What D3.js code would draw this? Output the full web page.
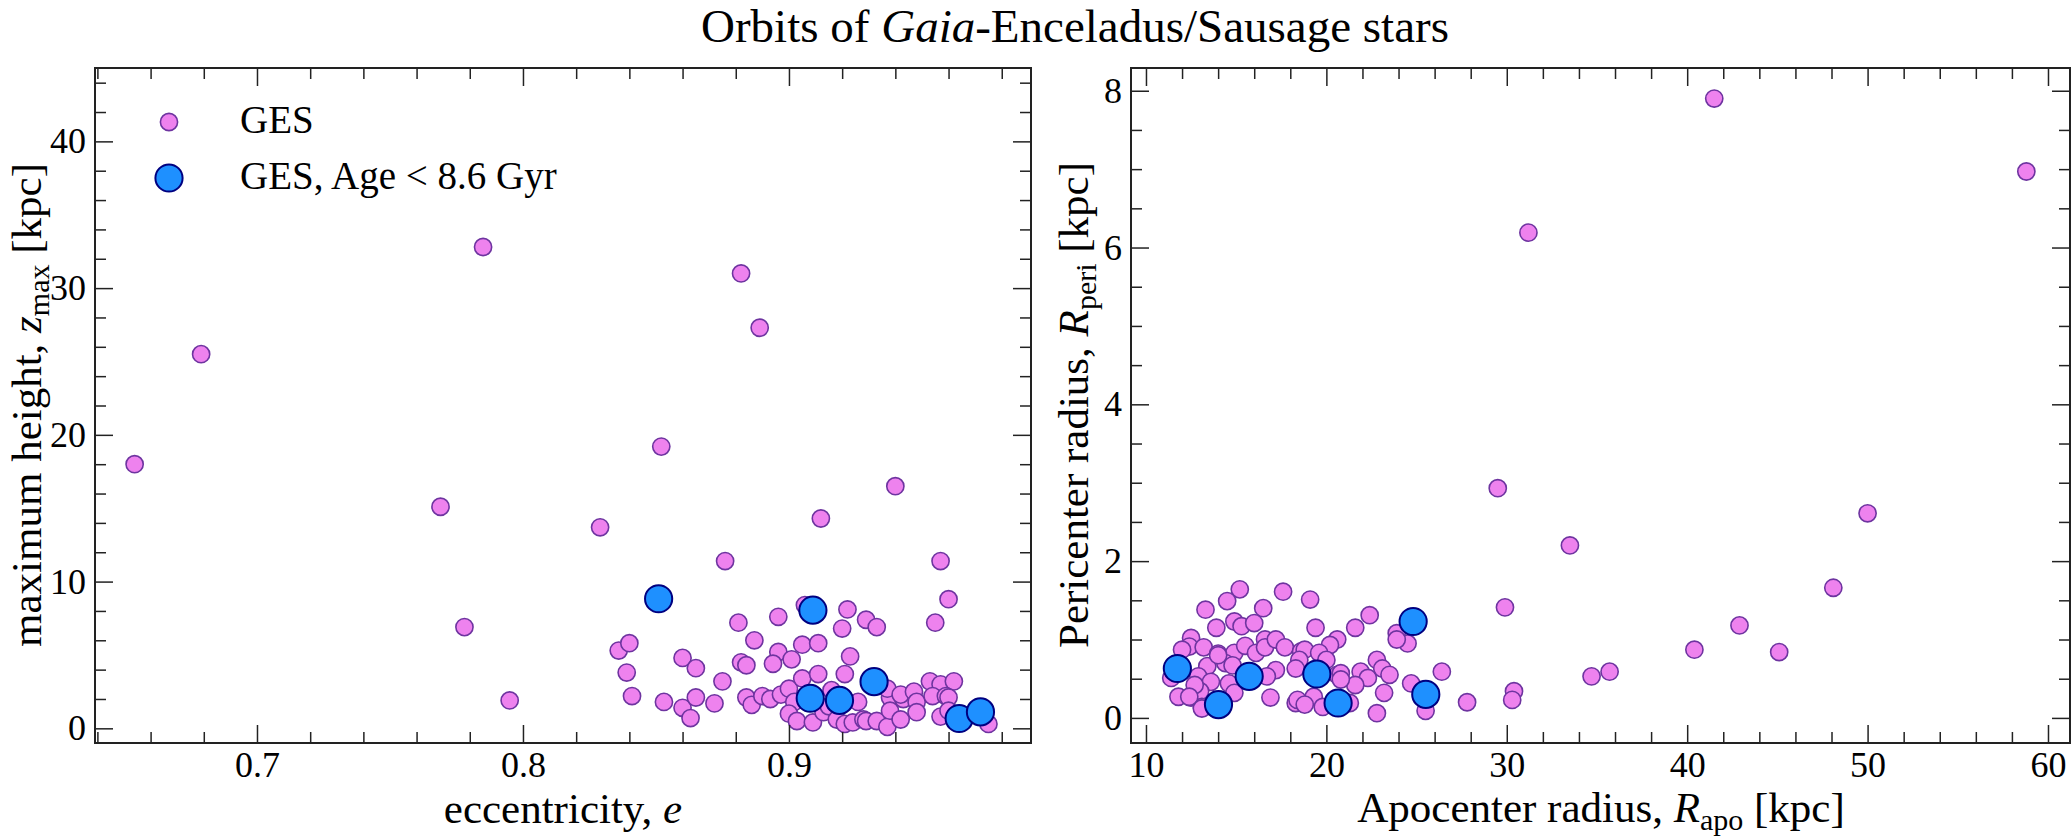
<!DOCTYPE html>
<html>
<head>
<meta charset="utf-8">
<script src="https://cdn.jsdelivr.net/npm/d3@7"></script>
<style>
  body { margin: 0; background: #fff; }
  svg { display: block; }
  svg text { font-family: "Liberation Serif", "Times New Roman", serif; }
</style>
</head>
<body>
<script>

// GES stars: eccentricity vs maximum height z_max [kpc]
const gesEccZ = [
  [0.654, 18.0], [0.679, 25.5], [0.785, 32.8], [0.882, 31.0], [0.889, 27.3],
  [0.769, 15.1], [0.778, 6.9], [0.795, 1.9], [0.852, 19.2], [0.829, 13.7],
  [0.876, 11.4], [0.912, 14.3], [0.940, 16.5], [0.957, 11.4], [0.960, 8.8], [0.955, 7.2],
  [0.836, 5.3], [0.840, 5.8], [0.839, 3.8], [0.841, 2.2],
  [0.860, 4.8], [0.865, 4.1], [0.853, 1.8], [0.860, 1.4], [0.863, 0.7], [0.865, 2.1],
  [0.872, 1.7], [0.875, 3.2],
  [0.881, 7.2], [0.887, 6.0], [0.882, 4.5], [0.884, 4.3], [0.884, 2.1], [0.886, 1.6],
  [0.896, 7.6], [0.896, 5.2], [0.894, 4.4], [0.901, 4.7], [0.905, 5.7], [0.906, 8.4], [0.911, 5.8],
  [0.890, 2.2], [0.893, 2.0], [0.897, 2.3], [0.900, 2.7], [0.905, 3.4], [0.911, 3.7], [0.921, 3.7],
  [0.902, 1.8], [0.900, 1.0], [0.903, 0.5], [0.909, 0.4], [0.913, 1.1], [0.915, 1.5],
  [0.918, 0.6], [0.921, 0.3], [0.924, 0.4], [0.926, 1.8], [0.928, 0.6],
  [0.916, 2.6], [0.922, 8.1], [0.920, 6.8], [0.923, 4.9],
  [0.929, 7.4], [0.933, 6.9], [0.929, 0.5], [0.933, 0.5], [0.937, 0.1], [0.938, 2.1],
  [0.937, 2.7], [0.938, 1.2], [0.942, 0.6], [0.943, 2.0], [0.942, 2.3], [0.947, 2.5],
  [0.948, 1.8], [0.948, 1.1],
  [0.953, 3.2], [0.957, 3.0], [0.962, 3.2], [0.954, 2.2], [0.959, 2.2], [0.960, 2.1],
  [0.957, 0.8], [0.960, 1.2], [0.975, 0.3]
];

// GES stars younger than 8.6 Gyr
const youngEccZ = [
  [0.851, 8.83], [0.909, 8.05], [0.908, 2.05], [0.919, 1.90], [0.932, 3.18], [0.964, 0.67], [0.972, 1.12]
];

// GES stars: apocenter vs pericenter radius [kpc]
const gesApoPeri = [
  [41.5, 7.90], [58.8, 6.97], [31.2, 6.19], [29.5, 2.93], [50.0, 2.61], [33.5, 2.20],
  [48.1, 1.66], [29.9, 1.41], [42.9, 1.18], [40.4, 0.87], [45.1, 0.84], [35.7, 0.59],
  [34.7, 0.53], [30.4, 0.34], [30.3, 0.23], [27.8, 0.20], [26.4, 0.59], [22.8, 0.06], [25.5, 0.09],
  [15.2, 1.64], [14.5, 1.49], [13.3, 1.38], [17.6, 1.61], [16.5, 1.40], [19.1, 1.51],
  [13.9, 1.15], [14.9, 1.23], [15.3, 1.17], [16.0, 1.21], [19.4, 1.15], [22.4, 1.31], [21.6, 1.15],
  [12.5, 1.02], [12.4, 0.91], [12.0, 0.87], [13.2, 0.90], [14.0, 0.82], [14.9, 0.83],
  [15.5, 0.92], [16.1, 0.83], [16.6, 1.00], [16.6, 0.90], [17.2, 1.00], [17.7, 0.90], [18.6, 0.85],
  [23.9, 1.08], [24.5, 0.95], [23.9, 1.00], [20.6, 1.00], [20.2, 0.93], [18.8, 0.87],
  [19.6, 0.83], [20.0, 0.74], [18.5, 0.74],
  [13.4, 0.66], [14.4, 0.70], [14.8, 0.67], [12.9, 0.53], [13.6, 0.46], [14.6, 0.44],
  [17.2, 0.61], [16.7, 0.53], [18.3, 0.63], [14.0, 0.80],
  [11.8, 0.27], [12.5, 0.26], [13.0, 0.34], [13.1, 0.14], [14.9, 0.32], [16.9, 0.26],
  [18.3, 0.19], [11.4, 0.51], [12.7, 0.42], [12.4, 0.27], [13.1, 0.12], [18.4, 0.23],
  [20.6, 0.55], [21.9, 0.59], [22.3, 0.51], [22.8, 0.74], [23.1, 0.63], [23.5, 0.55],
  [21.6, 0.42], [23.2, 0.32], [24.7, 0.44], [20.8, 0.57], [20.8, 0.49],
  [19.3, 0.27], [18.8, 0.17], [19.8, 0.14], [21.3, 0.19]
];

const youngApoPeri = [
  [11.74, 0.63], [14.02, 0.17], [15.72, 0.53], [19.47, 0.56], [20.65, 0.19], [24.81, 1.23], [25.51, 0.30]
];

// tick labels
const eccTicks = [0.7, 0.8, 0.9];
const zTicks = [0, 10, 20, 30, 40];
const apoTicks = [10, 20, 30, 40, 50, 60];
const periTicks = [0, 2, 4, 6, 8];
const legendLabels = ["GES", "GES, Age < 8.6 Gyr"];

const w = 2071;
const h = 838;
const serif = "Liberation Serif, Times New Roman, serif";

const pinkFill = "#ee82ee", pinkEdge = "#6e34a0";
const blueFill = "#1e90ff", blueEdge = "#000080";

// panel boxes
const left = { x0: 95, x1: 1031, y0: 68, y1: 743 };
const right = { x0: 1131, x1: 2070, y0: 68, y1: 743 };

const xL = d3.scaleLinear().domain([0.6391, 0.9910]).range([left.x0, left.x1]);
const yL = d3.scaleLinear().domain([-1, 45]).range([left.y1, left.y0]);
const xR = d3.scaleLinear().domain([9.17, 61.22]).range([right.x0, right.x1]);
const yR = d3.scaleLinear().domain([-0.32, 8.29]).range([right.y1, right.y0]);

const svg = d3.select("body")
              .append("svg")
              .attr("width", w)
              .attr("height", h)
              .attr("font-family", serif);

function styleAxis(g, size) {
  g.select(".domain").remove();
  g.attr("font-family", serif).attr("font-size", size);
  g.selectAll(".tick line").attr("stroke", "#222").attr("stroke-width", 1.5);
  g.selectAll(".tick text").attr("fill", "#000").attr("font-family", serif);
}

function drawAxes(p, x, y, xMajor, xMinor, yMajor, yMinor, xFmt) {
  const maj = 18, mnr = 11;
  // bottom + left with labels
  svg.append("g").attr("transform", "translate(0," + p.y1 + ")")
     .call(d3.axisBottom(x).tickValues(xMajor).tickSize(-maj).tickPadding(8).tickFormat(xFmt))
     .call(g => styleAxis(g, 36));
  svg.append("g").attr("transform", "translate(" + p.x0 + ",0)")
     .call(d3.axisLeft(y).tickValues(yMajor).tickSize(-maj).tickPadding(9).tickFormat(d3.format("d")))
     .call(g => styleAxis(g, 36));
  // mirrored ticks on top and right
  svg.append("g").attr("transform", "translate(0," + p.y0 + ")")
     .call(d3.axisTop(x).tickValues(xMajor).tickSize(-maj).tickFormat(""))
     .call(g => styleAxis(g, 36));
  svg.append("g").attr("transform", "translate(" + p.x1 + ",0)")
     .call(d3.axisRight(y).tickValues(yMajor).tickSize(-maj).tickFormat(""))
     .call(g => styleAxis(g, 36));
  // minor ticks
  [[d3.axisBottom(x).tickValues(xMinor), "translate(0," + p.y1 + ")"],
   [d3.axisTop(x).tickValues(xMinor), "translate(0," + p.y0 + ")"],
   [d3.axisLeft(y).tickValues(yMinor), "translate(" + p.x0 + ",0)"],
   [d3.axisRight(y).tickValues(yMinor), "translate(" + p.x1 + ",0)"]].forEach(([ax, tr]) => {
     svg.append("g").attr("transform", tr)
        .call(ax.tickSize(-mnr).tickFormat(""))
        .call(g => styleAxis(g, 36));
  });
  // frame
  svg.append("rect")
     .attr("x", p.x0).attr("y", p.y0)
     .attr("width", p.x1 - p.x0).attr("height", p.y1 - p.y0)
     .attr("fill", "none").attr("stroke", "#222").attr("stroke-width", 2);
}

function drawPoints(data, x, y, r, fill, edge, sw) {
  svg.append("g")
     .selectAll("circle")
     .data(data)
     .enter()
     .append("circle")
     .attr("cx", d => x(d[0]))
     .attr("cy", d => y(d[1]))
     .attr("r", r)
     .attr("fill", fill)
     .attr("stroke", edge)
     .attr("stroke-width", sw);
}

// left panel
drawPoints(gesEccZ, xL, yL, 8.6, pinkFill, pinkEdge, 1.6);
drawPoints(youngEccZ, xL, yL, 13.6, blueFill, blueEdge, 2);
drawAxes(left, xL, yL, eccTicks,
         d3.range(0.64, 0.99, 0.02).filter(v => eccTicks.every(t => Math.abs(t - v) > 1e-6)),
         zTicks, d3.range(0, 45, 2).filter(v => v % 10 !== 0), d3.format(".1f"));

// right panel
drawPoints(gesApoPeri, xR, yR, 8.6, pinkFill, pinkEdge, 1.6);
drawPoints(youngApoPeri, xR, yR, 13.6, blueFill, blueEdge, 2);
drawAxes(right, xR, yR, apoTicks,
         d3.range(10, 61, 2).filter(v => v % 10 !== 0),
         periTicks, d3.range(0, 8.1, 0.5).filter(v => v % 2 !== 0), d3.format("d"));

// legend
const legend = svg.append("g").attr("font-size", 39);
legend.append("circle").attr("cx", 169).attr("cy", 122).attr("r", 8.6)
      .attr("fill", pinkFill).attr("stroke", pinkEdge).attr("stroke-width", 1.6);
legend.append("circle").attr("cx", 169).attr("cy", 178).attr("r", 13.6)
      .attr("fill", blueFill).attr("stroke", blueEdge).attr("stroke-width", 2);
legend.append("text").attr("x", 240).attr("y", 133).text(legendLabels[0]);
legend.append("text").attr("x", 240).attr("y", 189).text(legendLabels[1]);

// title
const title = svg.append("text")
                 .attr("x", 1075).attr("y", 42)
                 .attr("text-anchor", "middle")
                 .attr("font-size", 47);
title.append("tspan").text("Orbits of ");
title.append("tspan").attr("font-style", "italic").text("Gaia");
title.append("tspan").text("-Enceladus/Sausage stars");

// axis labels
function axisLabel(x, y, rot, parts) {
  const t = svg.append("text")
               .attr("transform", "translate(" + x + "," + y + ")" + (rot ? " rotate(-90)" : ""))
               .attr("text-anchor", "middle")
               .attr("font-size", 43);
  parts.forEach(p => {
    const s = t.append("tspan").text(p.t);
    if (p.i) s.attr("font-style", "italic");
    if (p.sub) s.attr("font-size", 30).attr("dy", 8);
    if (p.up) s.attr("dy", -8);
  });
}

axisLabel(563, 823, false, [{ t: "eccentricity, " }, { t: "e", i: true }]);
axisLabel(1601, 822, false, [{ t: "Apocenter radius, " }, { t: "R", i: true },
                             { t: "apo", sub: true }, { t: " [kpc]", up: true }]);
axisLabel(41, 405, true, [{ t: "maximum height, " }, { t: "z", i: true },
                          { t: "max", sub: true }, { t: " [kpc]", up: true }]);
axisLabel(1088, 405, true, [{ t: "Pericenter radius, " }, { t: "R", i: true },
                            { t: "peri", sub: true }, { t: " [kpc]", up: true }]);

</script>
</body>
</html>
